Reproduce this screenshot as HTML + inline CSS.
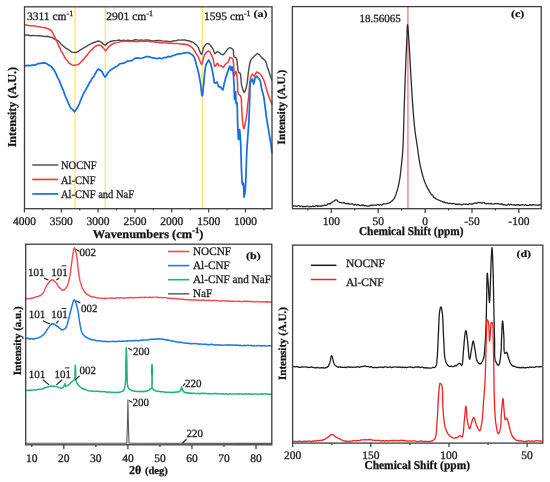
<!DOCTYPE html>
<html><head><meta charset="utf-8"><title>Figure</title>
<style>
html,body{margin:0;padding:0;background:#fff;}
body{width:550px;height:482px;overflow:hidden;}
svg{display:block;text-rendering:geometricPrecision;}
.t{font-family:"Liberation Serif",serif;font-size:11.5px;fill:#1c1c1c;stroke:#1c1c1c;stroke-width:0.3px;}
.ts{font-family:"Liberation Serif",serif;font-size:11px;fill:#1c1c1c;stroke:#1c1c1c;stroke-width:0.3px;}
.tb{font-family:"Liberation Serif",serif;font-size:12px;font-weight:bold;fill:#111;stroke:#111;stroke-width:0.25px;}
</style></head><body>
<svg width="550" height="482" viewBox="0 0 550 482">
<rect width="550" height="482" fill="#fff"/>
<line x1="75.05" y1="6.8" x2="75.05" y2="208.7" stroke="#f9e35f" stroke-width="1.25"/>
<line x1="105.3" y1="6.8" x2="105.3" y2="208.7" stroke="#f9e35f" stroke-width="1.25"/>
<line x1="202.3" y1="6.8" x2="202.3" y2="208.7" stroke="#f9e35f" stroke-width="1.25"/>
<g fill="none" stroke-linejoin="round" stroke-linecap="round">
<path d="M24.6 35L26.67 35.07L28.72 35.28L30.79 35.72L32.87 35.43L35 35.61L37.01 35.81L39.13 35.58L41.28 36.02L43.36 36.3L45.29 36.63L47 36.23L49.67 36.95L52 37.43L54.2 38.91L56.3 39.87L58.44 40.82L60.5 43.43L62.56 45.43L64.6 47.14L66.55 48.68L68.5 49.69L70.17 50.79L71.9 52.23L73.88 52.39L76 52.52L77.97 51.71L80.03 50.08L82.2 48.97L84.18 47.67L86.24 46.66L88.36 45.05L90.5 44.03L92.65 42.96L94.91 42.24L97.03 41.42L98.8 41L101.5 42.45L103.32 44.13L105.1 45.21L108 42.69L111.3 41.23L114.02 40.68L117 40.41L119.13 40.06L121.32 40.6L123.7 40.21L125.8 40.58L128.09 40.15L130.46 40.66L132.8 40.54L135 39.75L137.2 39.85L139.32 40.36L141.36 39.87L143.3 40.33L146.19 40.07L149.1 40.12L151.22 40.77L153.52 41.04L155.79 40.68L157.8 40.53L160.03 40.5L162.2 40.92L164.48 41.14L166.95 41.22L169.5 41.67L171.62 41.31L173.8 40.74L176 40.83L178.2 39.91L180.41 40.14L182.67 40.05L184.86 39.95L186.9 40.71L189.04 40.67L191.03 41.8L192.7 42.05L195 43.93L196.67 45.33L198.3 47.39L199.5 50.62L200.61 53.35L201.6 54.22L202.2 53.41L202.67 51.17L203.2 48.6L204 46.95L205.99 44.19L208.2 43.4L210.37 45.31L212.3 47.73L213.24 49.74L213.99 51.67L214.9 53.74L217.5 51.54L219.32 52.43L221.1 54.15L223.2 54.75L224.72 53.28L226.3 50.92L228.15 48.65L229.9 47.67L231.5 48.47L233 49.29L233.46 51.4L233.58 54.63L234.1 56.88L236.2 57.96L236.83 59.7L237.18 62.21L237.41 64.94L237.7 67.3L238.14 70.35L238.8 72.91L240 72.99L240.45 74.22L240.75 76.23L240.97 78.73L241.17 81.4L241.42 83.92L241.8 86L242.57 88.72L243.44 91.22L244.3 92.53L245.18 90.92L246.04 88.02L246.8 84.8L247.16 82.92L247.46 80.82L247.72 78.58L247.95 76.29L248.18 74.02L248.42 71.87L248.7 69.9L249.08 67.44L249.45 65.09L249.9 62.95L250.5 60.81L251.61 58.78L253 57.77L255.1 55.34L257.4 53.47L259.6 54.86L261.7 57.62L264.8 60.3L265.71 61.36L266.46 63.81L267.15 66.21L267.9 68.6L268.64 70.75L269.4 72.98L270.17 75.25L270.94 77.54L271.7 79.8" stroke="#4a4a4a" stroke-width="1.4"/>
<path d="M24.6 24.8L26.67 25.05L28.73 25.44L30.79 25.72L32.87 25.64L35 25.86L37.03 26.41L39.19 26.63L41.37 27.31L43.47 27.57L45.38 27.91L47 28.34L49.19 29.27L51 30.25L52.15 31.93L53.26 33.66L54.33 36.34L55.34 37.95L56.3 40.52L57.29 42.11L58.2 44.62L59.08 46.41L60 48.43L61.14 51.07L62.31 52.73L63.6 54.99L64.82 57.51L66.15 59.21L67.5 60.75L68.8 62.84L71.9 64.91L75.6 65.33L79 63.95L80.73 62.2L82.5 60.37L83.95 58.93L85.52 56.73L87.14 55.16L88.7 52.89L90.47 50.9L92.21 49.38L94 47.43L96.42 45.69L98.8 44.97L100.73 45.59L102.5 46.92L104.07 48.89L105.5 50.86L106.88 49.57L108.3 47.33L111.3 44.61L113.02 43.61L114.97 42.96L117 42.63L119.12 42.14L121.31 41.38L123.7 41.21L125.77 41.22L128.01 41.34L130.34 41.62L132.7 41.47L135 41.17L137.24 41.68L139.48 41.33L141.71 41.32L143.95 41.07L146.2 41.25L148.5 41.36L150.79 41.84L153.1 41.63L155.43 42.2L157.8 42.17L159.92 42.71L162.06 42.42L164.22 42.75L166.41 42.96L168.63 43.33L170.9 43.09L172.91 43.49L175.09 43.42L177.36 43.56L179.62 43.79L181.79 44.25L183.78 44.05L185.52 44.57L186.9 44.27L189.8 46L192 47.4L194.2 50.18L195.52 52.55L196.96 54.95L198.3 56.65L199.49 59.91L200.58 62.71L201.6 64.39L202.31 63.03L202.91 60.36L203.58 57.29L204.5 54.79L206.54 52.21L208.7 50.96L210.22 52.28L211.62 55.32L212.8 58L213.43 60.31L213.86 62.96L214.29 65.17L214.9 66.54L216.2 65.03L217.5 63.1L219 65.87L221.1 65.58L223.2 67.5L225.3 64.33L228.4 61.7L229.14 59.27L229.9 57.31L232.5 58.52L233.28 60.91L233.6 64.2L233.77 66.58L233.85 69.55L233.92 72.46L234.04 74.69L234.3 75.58L235.02 73.46L235.8 71.39L236.23 72.22L236.62 74.44L236.97 77.27L237.3 80L237.48 82.01L237.57 84.32L237.64 86.77L237.73 89.18L237.88 91.37L238.16 93.17L238.6 94.23L240.5 95.91L240.98 96.94L241.26 98.89L241.41 101.23L241.49 103.78L241.57 106.33L241.7 108.7L241.87 111.03L242.02 113.44L242.16 115.87L242.31 118.22L242.48 120.43L242.7 122.4L243.06 125.11L243.46 127.54L243.9 128.88L244.39 127.48L244.91 124.98L245.4 122.4L245.87 120.03L246.3 117.57L246.7 114.9L246.93 112.96L247.14 110.81L247.33 108.57L247.52 106.36L247.7 104.3L247.9 102.5L248.32 99.76L248.7 97.2L248.88 94.94L249.02 92.56L249.2 90L249.38 87.8L249.57 85.36L249.8 82.88L250.1 80.56L250.5 78.6L251.35 75.52L252.4 74.05L254.3 76.36L255.43 73.81L256.7 72.01L259.9 73.61L261.24 75.42L262.48 77.58L263.6 79.6L264.32 81.67L264.95 83.71L265.53 85.84L266.1 87.97L266.7 90L267.43 92.28L268.16 94.54L268.88 96.7L269.6 98.7L270.71 101.29L271.8 104" stroke="#f03c3c" stroke-width="1.5"/>
<path d="M24.6 66L27.19 65.3L29.78 65.53L32.38 65.18L35 65.09L37.81 63.74L40.71 63.33L43.48 62.93L45.9 63.22L48.71 65.1L51.1 66.18L52.51 68.32L53.83 69.74L55.08 71.93L56.3 74.3L57.41 77.07L58.46 79.12L59.48 80.75L60.48 83.94L61.5 86.09L62.37 88.47L63.22 90.07L64.08 92.66L64.94 95.27L65.81 97.24L66.7 99.23L67.73 101.54L68.78 103.79L69.85 106.33L70.89 108.09L71.9 108.86L74.4 111.79L76.26 109.39L78.1 106.46L79.14 104.11L80.12 101.62L81.11 99.09L82.2 96.7L83.15 94.53L84.16 92.14L85.21 90.97L86.29 88.78L87.39 86.96L88.5 84.57L89.72 82.37L91 80.69L92.28 77.96L93.53 76.94L94.7 74.92L96.12 72.12L97.46 69.88L98.8 69.23L102 71.55L103.56 74.88L105.1 77.15L106.31 75.83L107.61 73.17L109.2 71.49L111.13 69.63L113.43 68.19L115.69 66.81L117.5 65.91L120 63.6L122.08 63.42L124.61 62.87L127.3 61.15L129.7 60.81L132.23 60.33L134.85 58.37L137.5 57.9L139.77 58.38L142.11 58.01L144.47 57.39L146.81 56.49L149.1 56.78L151.72 57.67L154.29 58.22L156.82 58.61L159.3 57.98L161.55 58.74L163.75 57.7L165.9 57.71L168 56.39L170.52 56.85L172.95 55.53L175.3 55.01L178.26 53.7L181.1 53.76L183.67 53.01L186.2 52.63L188.88 52.74L191.3 54.32L192.92 55.28L194.2 57.21L195.08 59.73L195.75 62.32L196.4 64.9L197.06 67.22L197.69 69.52L198.3 72L198.74 73.99L199.18 76.09L199.6 78.28L200.01 80.52L200.4 82.8L200.74 85.27L201.05 88.18L201.36 91.14L201.65 93.74L201.93 95.6L202.2 95.83L202.54 95.21L202.87 92.53L203.19 89.13L203.5 85.9L203.71 83.8L203.91 81.53L204.1 79.17L204.3 76.8L204.5 74.49L204.74 72.33L205 70.4L205.43 67.61L205.91 65.13L206.6 63.36L208.7 59.96L210.7 63.72L211.3 65.99L211.85 68.3L212.36 70.81L212.85 73.31L213.3 75.6L213.78 79.02L214.21 82.28L214.9 83.3L217 82L217.71 83.93L218.5 86.58L220.6 87.06L222.7 89.95L223.25 88.89L223.7 85.9L224.32 83.26L225.04 80.36L225.8 77.6L226.83 74.4L227.9 71.4L228.95 68.11L229.9 66.12L231 70.18L232 66.73L233 71.4L233.25 73.3L233.46 75.59L233.65 78.12L233.81 80.77L233.96 83.41L234.1 85.9L234.2 88.49L234.27 91.43L234.32 94.36L234.38 96.91L234.47 98.71L234.6 99.4L234.91 97.54L235.28 94.06L235.6 91.5L235.75 93.86L235.81 97.52L235.91 101.22L236.2 103.7L236.7 101.97L236.92 103.03L237.1 104.31L237.22 106.22L237.32 108.6L237.39 111.31L237.44 114.21L237.49 117.17L237.54 120.03L237.61 122.65L237.7 124.9L237.84 127.9L237.99 131.19L238.13 134.4L238.28 137.15L238.44 139.07L238.6 139.52L238.81 138.26L239.03 134.85L239.26 131.45L239.5 129.58L239.75 130.85L240.01 133.25L240.27 136.46L240.5 139.8L240.61 141.57L240.7 143.58L240.78 145.78L240.86 148.14L240.93 150.61L241 153.17L241.07 155.78L241.13 158.39L241.2 160.98L241.27 163.5L241.34 165.92L241.42 168.2L241.5 170.31L241.6 172.2L241.75 175.46L241.89 178.77L242.05 181.71L242.27 183.83L242.6 184.84L243.3 183.11L243.56 184.76L243.71 187.25L243.8 190.46L243.86 193.66L243.95 196.11L244.1 197.06L244.47 195.79L244.9 192.63L245.3 188.8L245.43 187.18L245.55 185.32L245.67 183.25L245.77 181.01L245.87 178.62L245.96 176.12L246.04 173.53L246.13 170.89L246.21 168.22L246.29 165.57L246.36 162.95L246.44 160.4L246.53 157.95L246.61 155.63L246.7 153.47L246.8 151.5L246.95 148.78L247.11 146.26L247.27 143.89L247.43 141.62L247.58 139.42L247.74 137.22L247.9 135L248.07 132.66L248.24 130.43L248.42 128.23L248.59 125.99L248.75 123.64L248.9 121.1L249 119.08L249.09 116.91L249.18 114.64L249.26 112.27L249.34 109.86L249.42 107.44L249.49 105.03L249.57 102.67L249.64 100.39L249.72 98.22L249.8 96.2L249.87 93.54L249.9 90.93L249.92 88.42L250 86.1L250.18 84.04L250.5 82.11L252.4 79.07L253.07 81.73L253.6 84.11L254.15 82.28L254.9 78.37L256.7 76.1L258.34 78.08L259.9 80.02L260.62 82.39L261.03 85.17L261.5 88L262.06 90.27L262.67 92.58L263.28 94.93L263.8 97.3L264.22 99.77L264.56 102.27L264.87 104.81L265.2 107.4L265.5 109.69L265.79 112.06L266.08 114.44L266.39 116.77L266.7 119L267.06 121.29L267.44 123.48L267.83 125.63L268.2 127.8L268.55 129.98L268.9 132.15L269.25 134.33L269.6 136.5L269.98 138.69L270.38 140.9L270.77 143.08L271.1 145.2L271.41 147.65L271.65 150.02L271.9 152.4" stroke="#1570e0" stroke-width="1.75"/>
</g>
<rect x="24.5" y="6.8" width="247.5" height="201.89999999999998" fill="none" stroke="#3d3d3d" stroke-width="1.3"/>
<line x1="263.93" y1="208.7" x2="263.93" y2="210.2" stroke="#3d3d3d" stroke-width="1.2"/>
<line x1="245.5" y1="208.7" x2="245.5" y2="212.5" stroke="#3d3d3d" stroke-width="1.2"/>
<line x1="227.08" y1="208.7" x2="227.08" y2="210.2" stroke="#3d3d3d" stroke-width="1.2"/>
<line x1="208.65" y1="208.7" x2="208.65" y2="212.5" stroke="#3d3d3d" stroke-width="1.2"/>
<line x1="190.23" y1="208.7" x2="190.23" y2="210.2" stroke="#3d3d3d" stroke-width="1.2"/>
<line x1="171.8" y1="208.7" x2="171.8" y2="212.5" stroke="#3d3d3d" stroke-width="1.2"/>
<line x1="153.38" y1="208.7" x2="153.38" y2="210.2" stroke="#3d3d3d" stroke-width="1.2"/>
<line x1="134.95" y1="208.7" x2="134.95" y2="212.5" stroke="#3d3d3d" stroke-width="1.2"/>
<line x1="116.53" y1="208.7" x2="116.53" y2="210.2" stroke="#3d3d3d" stroke-width="1.2"/>
<line x1="98.1" y1="208.7" x2="98.1" y2="212.5" stroke="#3d3d3d" stroke-width="1.2"/>
<line x1="79.68" y1="208.7" x2="79.68" y2="210.2" stroke="#3d3d3d" stroke-width="1.2"/>
<line x1="61.25" y1="208.7" x2="61.25" y2="212.5" stroke="#3d3d3d" stroke-width="1.2"/>
<line x1="42.83" y1="208.7" x2="42.83" y2="210.2" stroke="#3d3d3d" stroke-width="1.2"/>
<line x1="24.4" y1="208.7" x2="24.4" y2="212.5" stroke="#3d3d3d" stroke-width="1.2"/>
<text x="245.5" y="224.6" class="t" text-anchor="middle">1000</text>
<text x="208.65" y="224.6" class="t" text-anchor="middle">1500</text>
<text x="171.8" y="224.6" class="t" text-anchor="middle">2000</text>
<text x="134.95" y="224.6" class="t" text-anchor="middle">2500</text>
<text x="98.1" y="224.6" class="t" text-anchor="middle">3000</text>
<text x="61.25" y="224.6" class="t" text-anchor="middle">3500</text>
<text x="24.4" y="224.6" class="t" text-anchor="middle">4000</text>
<text x="27" y="20.4" class="t">3311 cm<tspan dy="-4.5" font-size="8">-1</tspan></text>
<text x="106.3" y="20.4" class="t">2901 cm<tspan dy="-4.5" font-size="8">-1</tspan></text>
<text x="204" y="20.4" class="t">1595 cm<tspan dy="-4.5" font-size="8">-1</tspan></text>
<text transform="translate(253.6 17.3) scale(1 0.82)" class="tb">(a)</text>
<line x1="32.2" y1="165" x2="58.2" y2="165" stroke="#6a6a6a" stroke-width="1.7"/>
<text transform="translate(61 169.1) scale(0.915 1)" class="t">NOCNF</text>
<line x1="32.2" y1="179.45" x2="58.2" y2="179.45" stroke="#f03c3c" stroke-width="1.7"/>
<text transform="translate(61 183.55) scale(0.915 1)" class="t">Al-CNF</text>
<line x1="32.2" y1="193.9" x2="58.2" y2="193.9" stroke="#1570e0" stroke-width="1.7"/>
<text transform="translate(61 198) scale(0.915 1)" class="t">Al-CNF and NaF</text>
<text transform="translate(148.1 237.8) scale(1.03 1)" class="tb" text-anchor="middle">Wavenumbers (cm<tspan dy="-4.5" font-size="8.5">-1</tspan><tspan dy="4.5">)</tspan></text>
<text transform="translate(16.4 107.2) rotate(-90)" class="tb" style="font-size:12.1px" text-anchor="middle">Intensity (A.U.)</text>
<g fill="none" stroke-linejoin="round" stroke-linecap="round">
<path d="M25.8 298.9L26.77 298.55L27.75 298.74L28.74 298.58L29.72 298.37L30.7 298.08L31.68 298.28L32.63 298.12L33.58 297.74L34.5 297.5L35.48 297.07L36.46 296.67L37.44 296.6L38.4 296.42L39.33 295.75L40.21 295.77L41.04 294.93L41.8 294.34L42.39 293.61L42.92 293.47L43.4 292.52L43.85 291.76L44.26 290.72L44.66 289.47L45.04 288.76L45.42 288.01L45.8 286.99L46.2 286.77L46.79 285.44L47.36 284.38L47.91 283.91L48.49 282.69L49.1 282.46L49.78 281.44L50.5 280.8L51.23 280.14L52 279.99L52.88 279.99L53.8 280.42L54.72 281.63L55.6 282.04L56.16 282.97L56.7 283.34L57.21 284.58L57.72 285.34L58.23 286.05L58.75 286.8L59.3 287.35L59.99 288.2L60.71 288.61L61.44 289.51L62.17 290.21L62.9 290.02L63.64 290.29L64.4 289.83L65.15 288.89L65.86 288.08L66.5 287.27L66.88 286.61L67.23 286.28L67.55 285.22L67.84 284.4L68.11 283.53L68.37 282.62L68.61 281.68L68.84 280.72L69.06 279.75L69.28 278.77L69.5 277.8L69.68 276.98L69.85 276.13L70 275.25L70.15 274.34L70.29 273.42L70.43 272.49L70.55 271.55L70.68 270.6L70.8 269.64L70.91 268.69L71.03 267.75L71.14 266.82L71.25 265.91L71.37 265.01L71.48 264.14L71.6 263.3L71.74 262.29L71.88 261.29L72.01 260.29L72.14 259.31L72.27 258.34L72.4 257.39L72.53 256.47L72.66 255.57L72.8 254.71L72.94 253.89L73.1 253.1L73.36 251.8L73.63 250.44L73.9 249.22L74.2 248.27L74.5 247.72L74.73 247.93L74.97 248.66L75.23 249.4L75.49 250.34L75.76 251.42L76.01 252.58L76.26 253.77L76.49 254.93L76.7 256L76.85 256.83L76.98 257.7L77.1 258.59L77.21 259.5L77.31 260.43L77.41 261.38L77.5 262.34L77.58 263.31L77.67 264.29L77.76 265.26L77.86 266.24L77.96 267.2L78.07 268.16L78.2 269.1L78.33 270.04L78.46 271L78.58 271.96L78.71 272.93L78.84 273.91L78.98 274.88L79.12 275.84L79.26 276.8L79.42 277.75L79.59 278.68L79.77 279.59L79.96 280.49L80.17 281.36L80.4 282.2L80.68 283.17L80.97 284.13L81.27 285.07L81.58 285.99L81.92 286.88L82.27 287.88L82.65 288.89L83.07 289.4L83.51 290.16L84 290.93L84.59 291.83L85.22 292.27L85.88 293.21L86.58 293.84L87.32 294.51L88.1 294.82L88.93 295.33L89.8 295.91L90.57 296.6L91.38 296.55L92.22 296.95L93.09 296.99L93.99 297.05L94.92 297.18L95.88 297.76L96.87 297.86L97.89 297.72L98.93 298.01L100 298.11L100.79 298.31L101.62 298.4L102.47 298.11L103.35 298.5L104.25 298.51L105.17 298.3L106.11 298.48L107.06 298.25L108.03 298.17L109 298.08L109.98 298.44L110.96 298L111.95 297.92L112.93 298.34L113.91 298.29L114.87 298.09L115.83 298.28L116.78 297.78L117.7 297.89L118.61 297.89L119.5 297.95L120.46 297.79L121.4 297.71L122.34 297.85L123.27 298.17L124.19 298.2L125.1 298.03L126.01 297.84L126.91 297.68L127.81 298.08L128.7 297.79L129.6 297.89L130.49 297.44L131.39 297.52L132.28 297.87L133.19 297.82L134.09 297.85L135 297.66L135.92 297.53L136.84 297.6L137.76 297.74L138.68 297.39L139.6 297.5L140.53 297.32L141.45 297.59L142.37 297.11L143.3 297.49L144.22 297.63L145.14 297.05L146.06 297.38L146.97 297.4L147.88 297.51L148.79 297.35L149.7 297.15L150.6 297.24L151.51 297.58L152.41 297.56L153.3 297.11L154.19 297.11L155.06 297.13L155.94 297.11L156.81 297.39L157.69 297.23L158.57 297.7L159.45 297.61L160.35 297.33L161.25 297.62L162.16 297.54L163.09 297.69L164.04 297.58L165 297.6L165.84 297.66L166.67 297.84L167.52 298.1L168.36 298.07L169.21 297.84L170.07 298.32L170.93 298.5L171.8 298.52L172.67 298.61L173.56 298.23L174.45 298.59L175.35 298.44L176.26 298.95L177.18 298.68L178.11 299.09L179.05 298.9L180.01 299.25L180.98 299.1L181.96 299.02L182.96 299.3L183.97 299.32L185 299.74L185.8 299.42L186.6 299.6L187.42 299.67L188.24 299.95L189.07 299.49L189.91 299.83L190.76 299.81L191.61 299.99L192.47 300.17L193.34 299.81L194.22 300.08L195.1 300.02L195.99 300.07L196.89 299.81L197.79 300.29L198.7 300.42L199.62 300.08L200.54 300.09L201.47 300.53L202.4 300.03L203.34 300.04L204.29 300.07L205.24 300.55L206.19 300.54L207.15 300.39L208.12 300.52L209.08 300.19L210.06 300.59L211.04 300.5L212.02 300.57L213 300.53L213.99 300.56L214.99 300.49L215.98 300.41L216.98 300.67L217.99 300.59L218.99 300.89L220 300.99L220.82 300.96L221.64 300.82L222.48 300.71L223.31 300.83L224.16 300.91L225 301.02L225.86 301.24L226.71 300.74L227.58 301L228.44 301.03L229.31 301.19L230.19 301.31L231.07 301.27L231.96 301.2L232.84 301.3L233.74 301.27L234.63 301.4L235.53 301.33L236.43 301.34L237.34 301.1L238.24 301.52L239.16 301.22L240.07 301.38L240.98 301.53L241.9 301.63L242.82 301.67L243.74 301.1L244.67 301.3L245.59 301.32L246.52 301.39L247.45 301.26L248.38 301.53L249.31 301.26L250.24 301.42L251.17 301.82L252.1 301.72L253.03 301.57L253.97 301.38L254.9 301.91L255.83 301.78L256.76 301.5L257.69 301.6L258.63 301.8L259.56 301.84L260.48 301.61L261.41 302.05L262.34 301.69L263.26 301.67L264.19 302.04L265.11 301.65L266.03 301.98L266.95 301.72L267.86 301.98L268.78 301.8L269.69 301.89L270.59 302.24L271.5 302" stroke="#f5474f" stroke-width="1.4"/>
<path d="M25.8 338.1L26.76 338.55L27.71 338.26L28.66 338.4L29.62 339.15L30.6 338.78L31.6 338.77L32.49 339.05L33.41 338.77L34.35 338.97L35.31 338.4L36.25 338.62L37.18 337.99L38.07 337.87L38.9 337.76L39.85 337.19L40.75 336.88L41.61 336.23L42.44 335.27L43.23 335.13L44 334.25L44.62 333.39L45.19 332.53L45.73 332.06L46.26 331.01L46.77 330.32L47.29 329.34L47.83 328.62L48.4 327.64L49.08 326.88L49.78 325.96L50.49 324.92L51.22 324.63L51.95 323.73L52.7 323.77L53.55 323.99L54.42 324.26L55.31 324.61L56.2 325.74L57.1 326.3L57.94 326.65L58.81 327.33L59.68 328.4L60.55 328.8L61.39 329.84L62.2 329.8L63.17 329.66L64.12 329.12L65.01 328.57L65.8 327.85L66.21 326.88L66.57 326.22L66.89 325.51L67.18 324.65L67.45 323.74L67.7 322.79L67.95 321.81L68.19 320.83L68.44 319.85L68.7 318.9L68.94 318.06L69.17 317.19L69.39 316.29L69.61 315.37L69.83 314.45L70.04 313.51L70.26 312.58L70.47 311.65L70.69 310.73L70.91 309.83L71.13 308.96L71.36 308.11L71.6 307.3L71.92 306.18L72.25 304.95L72.58 303.7L72.92 302.5L73.26 301.44L73.6 300.63L73.95 299.89L74.3 299.86L74.61 299.99L74.94 300.37L75.28 301.2L75.62 301.98L75.96 303.01L76.3 304.14L76.63 305.32L76.94 306.51L77.23 307.65L77.5 308.7L77.7 309.55L77.89 310.43L78.05 311.34L78.21 312.27L78.35 313.21L78.48 314.16L78.6 315.13L78.73 316.1L78.85 317.07L78.98 318.04L79.12 319L79.27 319.95L79.42 320.88L79.6 321.8L79.78 322.74L79.95 323.7L80.11 324.68L80.27 325.66L80.43 326.63L80.6 327.6L80.78 328.55L80.98 329.48L81.21 330.37L81.47 331.23L81.77 332.06L82.11 332.55L82.5 333.8L83.06 334.24L83.68 335.04L84.34 335.72L85.06 336.67L85.82 337.26L86.63 337.54L87.49 337.97L88.4 338.26L89.12 339.07L89.87 338.93L90.65 339.42L91.45 339.54L92.28 339.74L93.14 339.95L94.03 340.02L94.95 340.09L95.89 340.53L96.87 340.82L97.88 340.85L98.93 340.7L100 341.12L100.74 340.81L101.51 341.09L102.31 341.4L103.14 341.5L103.99 341.27L104.87 341.54L105.77 341.37L106.69 341.41L107.63 341.46L108.58 341.72L109.55 341.58L110.52 341.43L111.51 341.58L112.5 341.53L113.5 341.35L114.51 341.6L115.51 341.6L116.51 341.46L117.51 341.64L118.5 341.07L119.49 341.33L120.47 341.39L121.43 341.19L122.38 341.06L123.32 341.35L124.24 341.17L125.14 341.04L126.02 340.88L126.87 341.41L127.7 341.01L128.71 340.84L129.7 340.86L130.67 340.84L131.63 341.15L132.57 340.69L133.5 340.69L134.41 340.52L135.32 340.68L136.22 340.46L137.11 340.48L137.99 340.65L138.87 340.69L139.75 340.57L140.62 340.03L141.49 340.17L142.36 340.39L143.24 339.83L144.12 339.88L145 339.99L145.93 339.87L146.87 340.02L147.79 339.92L148.72 339.69L149.64 339.47L150.56 339.37L151.47 339.31L152.39 339.11L153.3 339.39L154.2 339.02L155.11 339.39L156.01 339.2L156.91 338.81L157.81 339.05L158.71 339.11L159.61 338.79L160.5 339.09L161.43 338.88L162.36 339.41L163.29 339.06L164.23 339.57L165.16 339.92L166.1 340L167.03 339.8L167.95 340.16L168.87 340.1L169.78 340.41L170.69 340.91L171.58 341.06L172.45 340.75L173.32 341.14L174.17 341.45L175 341.31L175.96 341.84L176.87 342.04L177.74 341.98L178.58 342.01L179.41 342.44L180.25 342.38L181.1 342.32L181.99 342.5L182.93 342.55L183.93 343.08L185 343.01L185.73 343.19L186.49 343.34L187.27 343.5L188.07 343.1L188.9 343.29L189.75 343.64L190.62 343.64L191.51 343.47L192.41 343.7L193.33 343.48L194.26 343.52L195.21 343.5L196.17 343.76L197.13 343.72L198.11 343.95L199.09 344.27L200.08 343.83L201.08 344.12L202.07 344.35L203.07 344.24L204.07 344.25L205.07 344.44L206.07 344.04L207.06 344.64L208.05 344.52L209.03 344.64L210 344.7L210.87 344.3L211.74 344.32L212.62 344.42L213.5 344.65L214.39 344.95L215.28 344.96L216.17 344.7L217.06 344.85L217.96 344.96L218.86 344.74L219.77 345.15L220.68 345.17L221.58 345.07L222.5 345.2L223.41 345.16L224.32 345.1L225.24 344.93L226.16 344.93L227.08 344.93L228 344.85L228.92 345.39L229.84 345.04L230.77 344.9L231.69 345.09L232.61 344.99L233.54 345.22L234.46 345.17L235.39 345.1L236.31 345.3L237.23 345.29L238.16 345.27L239.08 345.57L240 345.28L240.89 345.44L241.78 345.67L242.67 345.73L243.57 345.4L244.46 345.22L245.35 345.78L246.25 345.54L247.15 345.37L248.05 345.34L248.94 345.42L249.84 345.47L250.74 345.39L251.64 345.35L252.54 345.93L253.45 345.84L254.35 345.43L255.25 345.66L256.15 345.86L257.06 345.7L257.96 345.45L258.86 345.62L259.77 345.66L260.67 345.99L261.57 345.81L262.48 345.74L263.38 345.86L264.28 345.52L265.19 345.92L266.09 346L266.99 345.93L267.9 345.76L268.8 345.73L269.7 345.58L270.6 345.64L271.5 345.9" stroke="#1f79de" stroke-width="1.5"/>
<path d="M25.8 390.4L26.77 390.61L27.75 390.59L28.73 390.53L29.71 390.01L30.69 390.28L31.66 390.14L32.62 390.16L33.57 389.85L34.5 389.82L35.45 389.88L36.38 389.66L37.29 389.71L38.2 389.35L39.11 389.26L40 389.5L40.9 389.15L41.8 389.01L42.73 388.87L43.68 388.32L44.62 387.77L45.57 387.81L46.49 387.31L47.4 387.01L48.27 386.69L49.1 386.68L50.27 386.11L51.37 386.24L52.43 385.97L53.5 386.14L54.58 386.36L55.65 386.41L56.72 386.57L57.8 387.08L58.71 387.49L59.66 387.73L60.6 387.93L61.46 388.22L62.2 387.91L63.24 387.29L64 386.39L64.37 385.37L64.59 384.1L64.8 383.69L64.99 384.21L65.17 385.58L65.5 386.32L66.5 386.17L67.08 385.83L67.78 385.26L68.56 384.73L69.37 384.17L70.17 383.57L70.9 382.6L71.7 381.94L72.52 381.25L73.29 380.59L73.97 380.13L74.5 379.13L74.79 378.25L74.95 377.29L75.01 376.26L75.01 375.19L74.99 374.1L74.97 373.03L75 372L75.05 370.92L75.1 369.68L75.14 368.41L75.17 367.22L75.21 366.23L75.25 365.55L75.3 365.16L75.35 365.55L75.41 366.21L75.47 367.19L75.53 368.37L75.59 369.64L75.65 370.88L75.7 372L75.72 372.92L75.72 373.88L75.7 374.87L75.68 375.88L75.67 376.88L75.69 377.86L75.74 378.8L75.84 379.69L76 380.5L76.3 381.51L76.67 382.2L77.11 383.47L77.62 384.24L78.2 385.1L78.78 385.43L79.42 386.27L80.11 387.12L80.86 387.51L81.66 388.27L82.5 388.3L83.29 389.17L84.12 388.97L85 389.49L85.91 389.54L86.85 390.26L87.82 390.41L88.8 390.79L89.8 390.88L90.64 391.12L91.49 390.99L92.34 391.37L93.2 391.31L94.08 391.15L94.98 391.58L95.91 391.28L96.87 391.21L97.87 391.18L98.91 391.45L100 391.32L100.76 391.79L101.59 391.84L102.47 391.46L103.4 391.45L104.37 391.78L105.38 391.63L106.42 391.93L107.48 392.17L108.56 391.91L109.64 392.08L110.74 392.43L111.82 392.21L112.9 392.19L113.97 392.55L115.01 392.51L116.02 392.56L117 392.41L117.94 392.2L118.83 392.29L119.66 392.27L120.44 392.03L121.15 391.63L121.78 391.47L122.33 391.31L122.8 391.26L123.54 390.5L124.03 389.78L124.36 388.94L124.58 388.02L124.77 386.98L125 385.8L125.12 385.2L125.22 384.54L125.32 383.83L125.4 383.07L125.47 382.26L125.54 381.41L125.59 380.52L125.64 379.6L125.68 378.64L125.71 377.66L125.74 376.66L125.76 375.64L125.78 374.6L125.79 373.55L125.8 372.5L125.81 371.44L125.81 370.39L125.82 369.34L125.82 368.29L125.82 367.27L125.82 366.26L125.82 365.27L125.83 364.3L125.84 363.37L125.85 362.47L125.86 361.6L125.88 360.78L125.9 360L125.94 358.83L125.97 357.6L126 356.32L126.03 355.04L126.06 353.78L126.09 352.55L126.12 351.41L126.15 350.36L126.18 349.44L126.2 348.68L126.23 348.1L126.27 347.73L126.3 347.8L126.34 347.73L126.37 348.1L126.41 348.68L126.44 349.45L126.48 350.37L126.52 351.42L126.56 352.57L126.6 353.79L126.64 355.05L126.68 356.34L126.72 357.61L126.76 358.84L126.8 360L126.83 360.79L126.85 361.64L126.87 362.53L126.89 363.46L126.9 364.42L126.92 365.42L126.93 366.45L126.94 367.5L126.96 368.56L126.97 369.64L126.98 370.72L127 371.81L127.01 372.89L127.03 373.96L127.05 375.02L127.07 376.07L127.1 377.09L127.12 378.09L127.16 379.05L127.19 379.97L127.23 380.86L127.28 381.69L127.33 382.48L127.39 383.21L127.45 383.87L127.52 384.47L127.6 385L127.8 386.38L128.05 387.16L128.6 388.38L129.12 388.73L129.76 389.37L130.51 390L131.36 390.07L132.28 390.85L133.26 390.63L134.3 391.14L135.01 391.23L135.81 391.15L136.68 391.44L137.61 391.47L138.6 391.52L139.63 391.72L140.68 391.3L141.75 391.52L142.82 391.72L143.89 391.25L144.93 391.57L145.94 391L146.9 391.08L147.8 390.52L148.64 390.37L149.39 389.98L150.05 389.35L150.6 389.22L151.02 388.55L151.37 388.03L151.65 387.19L151.87 386.39L152.04 385.52L152.15 384.59L152.22 383.61L152.25 382.59L152.25 381.54L152.22 380.47L152.17 379.39L152.1 378.3L152.02 377.22L151.93 376.16L151.84 375.13L151.76 374.13L151.68 373.18L151.63 372.28L151.59 371.44L151.58 370.68L151.6 370L151.67 368.76L151.74 367.51L151.8 366.36L151.86 365.4L151.93 364.74L152 364.52L152.08 364.74L152.16 365.39L152.25 366.35L152.34 367.51L152.42 368.76L152.5 370L152.52 370.68L152.52 371.45L152.49 372.29L152.44 373.19L152.38 374.15L152.31 375.16L152.24 376.2L152.16 377.27L152.08 378.35L152.02 379.44L151.97 380.53L151.93 381.61L151.91 382.66L151.92 383.68L151.97 384.66L152.04 385.58L152.16 386.45L152.32 387.24L152.52 387.96L152.78 388.61L153.1 389.12L153.74 389.67L154.48 390.55L155.31 390.44L156.22 391.19L157.2 391.37L158.25 391.3L159.35 391.61L160.5 391.7L161.25 391.77L162.08 391.69L162.99 391.81L163.96 391.92L164.99 391.98L166.06 392.46L167.16 392.16L168.28 392.24L169.41 392.31L170.55 392.57L171.67 392.38L172.78 392.42L173.85 392.21L174.88 392.16L175.87 391.97L176.79 391.94L177.64 391.83L178.4 392.02L179.08 391.61L179.64 391.14L180.1 391.08L180.81 389.83L181.13 388.69L181.28 387.51L181.5 387.04L181.81 387.59L182.1 388.84L182.5 389.97L182.91 390.99L183.42 391.34L184.3 392.31L184.69 392.12L185.13 392.71L185.63 392.64L186.18 392.41L186.78 392.98L187.43 392.77L188.12 392.91L188.86 392.86L189.64 393.34L190.46 392.96L191.31 393.4L192.2 393.24L193.12 393.44L194.06 393.24L195.04 393.14L196.03 393.66L197.05 393.52L198.09 393.24L199.15 393.74L200.22 393.71L201.3 393.27L202.4 393.18L203.5 393.54L204.61 393.26L205.71 393.63L206.82 393.48L207.93 393.64L209.04 393.57L210.13 393.71L211.22 393.76L212.3 393.66L213.05 393.68L213.8 393.54L214.57 393.45L215.35 393.44L216.14 393.92L216.93 393.55L217.73 393.7L218.55 393.65L219.37 393.84L220.2 393.81L221.04 394.02L221.88 393.78L222.74 393.74L223.6 393.93L224.46 394L225.34 394.12L226.22 393.76L227.11 394.11L228 394.18L228.9 394.19L229.8 393.69L230.71 393.84L231.63 394.09L232.55 394.13L233.47 393.66L234.4 393.88L235.33 394.08L236.27 394.11L237.21 393.98L238.16 393.79L239.1 393.91L240.05 393.71L241.01 393.87L241.96 393.94L242.92 394.18L243.88 394.04L244.84 393.94L245.8 393.84L246.77 393.88L247.73 394.1L248.7 393.97L249.67 393.81L250.63 394.2L251.6 394.05L252.57 394.29L253.53 394.04L254.5 394.09L255.46 393.98L256.43 394.09L257.39 394.28L258.35 394.32L259.31 394.13L260.27 393.99L261.22 393.78L262.17 394.25L263.12 393.98L264.07 393.98L265.01 393.79L265.95 393.78L266.89 394L267.82 394.36L268.75 394.22L269.67 394.21L270.59 394.19L271.5 394.1" stroke="#1fb57a" stroke-width="1.5"/>
<path d="M25.8 443.3L126.8 443.2L127.4 425L127.9 399.9L128.4 425L129 443.2L271.5 443.4" stroke="#5a5a5a" stroke-width="1.1"/>
</g>
<rect x="25.7" y="244.2" width="246.10000000000002" height="200.60000000000002" fill="none" stroke="#3d3d3d" stroke-width="1.3"/>
<line x1="31.8" y1="444.8" x2="31.8" y2="447.1" stroke="#3d3d3d" stroke-width="1.2"/>
<text x="31.8" y="461.5" class="t" text-anchor="middle">10</text>
<line x1="63.83" y1="444.8" x2="63.83" y2="449.3" stroke="#3d3d3d" stroke-width="1.2"/>
<text x="63.83" y="461.5" class="t" text-anchor="middle">20</text>
<line x1="95.86" y1="444.8" x2="95.86" y2="447.1" stroke="#3d3d3d" stroke-width="1.2"/>
<text x="95.86" y="461.5" class="t" text-anchor="middle">30</text>
<line x1="127.89" y1="444.8" x2="127.89" y2="449.3" stroke="#3d3d3d" stroke-width="1.2"/>
<text x="127.89" y="461.5" class="t" text-anchor="middle">40</text>
<line x1="159.92" y1="444.8" x2="159.92" y2="447.1" stroke="#3d3d3d" stroke-width="1.2"/>
<text x="159.92" y="461.5" class="t" text-anchor="middle">50</text>
<line x1="191.95" y1="444.8" x2="191.95" y2="449.3" stroke="#3d3d3d" stroke-width="1.2"/>
<text x="191.95" y="461.5" class="t" text-anchor="middle">60</text>
<line x1="223.98" y1="444.8" x2="223.98" y2="447.1" stroke="#3d3d3d" stroke-width="1.2"/>
<text x="223.98" y="461.5" class="t" text-anchor="middle">70</text>
<line x1="256.01" y1="444.8" x2="256.01" y2="449.3" stroke="#3d3d3d" stroke-width="1.2"/>
<text x="256.01" y="461.5" class="t" text-anchor="middle">80</text>
<text x="129" y="473.8" class="tb">2&#952; <tspan x="145" style="font-size:10.5px">(deg)</tspan></text>
<text transform="translate(20.9 340.8) rotate(-90)" class="tb" style="font-size:11px" text-anchor="middle">Intensity (a.u.)</text>
<g class="s" fill="none" stroke="#222" stroke-width="1.15">
<line x1="44" y1="278.1" x2="48.4" y2="280"/>
<line x1="59.3" y1="278.1" x2="56.4" y2="280"/>
<line x1="76" y1="249.5" x2="79.6" y2="251.6"/>
<line x1="43" y1="320.7" x2="49.8" y2="324"/>
<line x1="58.5" y1="320.7" x2="56.4" y2="323.3"/>
<line x1="76" y1="300.7" x2="80.4" y2="302.9"/>
<line x1="43" y1="379.8" x2="49.1" y2="384.9"/>
<line x1="62.2" y1="379.8" x2="56.4" y2="384.9"/>
<line x1="79.6" y1="375.9" x2="75.3" y2="379.8"/>
<line x1="128.3" y1="348.3" x2="132.3" y2="350.6"/>
<line x1="128.9" y1="400.6" x2="132.4" y2="402.6"/>
<line x1="182.8" y1="386.1" x2="185.3" y2="383.3"/>
<line x1="182.5" y1="443" x2="186.6" y2="439.3"/>
</g>
<text x="28" y="275.6" class="ts">101</text>
<text x="51.3" y="275.6" class="ts">101</text>
<line x1="61.6" y1="265.9" x2="66.4" y2="265.9" stroke="#2a2a2a" stroke-width="1"/>
<text x="79.6" y="256.3" class="ts">002</text>
<text x="28.7" y="318.2" class="ts">101</text>
<text x="51.3" y="318.2" class="ts">101</text>
<line x1="61.6" y1="308.5" x2="66.4" y2="308.5" stroke="#2a2a2a" stroke-width="1"/>
<text x="81.1" y="312.4" class="ts">002</text>
<text x="28.7" y="377.6" class="ts">101</text>
<text x="54.6" y="377.6" class="ts">101</text>
<line x1="64.9" y1="367.9" x2="69.7" y2="367.9" stroke="#2a2a2a" stroke-width="1"/>
<text x="79.6" y="374" class="ts">002</text>
<text x="133" y="355" class="ts">200</text>
<text x="132.6" y="406.4" class="ts">200</text>
<text x="185" y="386.8" class="ts">220</text>
<text x="186.6" y="437" class="ts">220</text>
<line x1="168" y1="251.5" x2="189.3" y2="251.5" stroke="#f5474f" stroke-width="1.6"/>
<text transform="translate(193 254.5) scale(0.975 1)" class="t">NOCNF</text>
<line x1="168" y1="265.6" x2="189.3" y2="265.6" stroke="#1f79de" stroke-width="1.6"/>
<text transform="translate(193 268.6) scale(0.975 1)" class="t">Al-CNF</text>
<line x1="168" y1="279.7" x2="189.3" y2="279.7" stroke="#1fb57a" stroke-width="1.6"/>
<text transform="translate(193 282.7) scale(0.975 1)" class="t">Al-CNF and NaF</text>
<line x1="168" y1="293.8" x2="189.3" y2="293.8" stroke="#666" stroke-width="1.6"/>
<text transform="translate(193 296.8) scale(0.975 1)" class="t">NaF</text>
<text transform="translate(246 258.9) scale(1 0.82)" class="tb">(b)</text>
<line x1="407.9" y1="6.6" x2="407.9" y2="208.7" stroke="#f88a8a" stroke-width="1.5"/>
<path d="M292.6 206L293.52 205.74L294.44 206.1L295.36 205.94L296.28 206.24L297.21 206.3L298.13 205.72L299.05 205.7L299.98 206.64L300.9 206.04L301.82 206.04L302.74 206.9L303.65 206.35L304.57 206.77L305.48 206.38L306.39 206.57L307.3 206.03L308.2 206.55L309.13 206.79L310.07 206.39L311.02 206.6L311.98 206.5L312.94 205.8L313.9 206.53L314.85 206.3L315.8 205.94L316.74 205.59L317.66 206.44L318.56 205.94L319.44 206.14L320.3 206.23L321.13 205.95L321.93 206.08L322.7 205.38L323.76 205.65L324.78 205.06L325.76 205.39L326.7 205.1L327.59 204L328.44 203.78L329.25 203.59L330 204.11L331 203.04L331.87 202.71L332.69 201.81L333.5 201.51L334.46 200.66L335.38 199.93L336.3 199.89L337.18 200.31L338.05 201.51L339.1 202L339.88 202.54L340.79 202.68L341.78 203L342.79 202.79L343.78 202.36L344.7 203.26L345.5 203.51L346.43 203.65L347.23 203.48L348.2 203.84L348.91 203.41L349.7 204.23L350.56 204.08L351.47 203.9L352.43 203.8L353.41 204.81L354.41 205.09L355.41 204.23L356.4 205.13L357.25 204.8L358.13 204.61L359.02 204.87L359.92 205.49L360.83 205.7L361.76 204.88L362.68 205.59L363.62 205.04L364.54 205.84L365.47 205.46L366.39 206.1L367.3 206.23L368.28 205.71L369.28 206.23L370.29 205.44L371.3 205.13L372.3 205.65L373.3 204.95L374.28 205.05L375.25 205.19L376.2 205.32L377.11 204.72L378 204.5L379.1 205.26L380.19 204.49L381.25 205.03L382.26 204.78L383.24 204.02L384.15 203.93L385 203.82L386.18 203.74L387.22 203.48L388.3 203.07L389.11 202.77L389.98 202.69L390.87 201.71L391.74 201.05L392.57 200.7L393.3 199.41L393.78 198.85L394.22 198.89L394.62 197.61L395 196.82L395.35 195.95L395.68 195.07L395.99 194.16L396.3 193.24L396.6 192.32L396.9 191.4L397.16 190.59L397.41 189.76L397.65 188.92L397.87 188.07L398.09 187.2L398.3 186.32L398.5 185.43L398.7 184.52L398.89 183.6L399.07 182.67L399.25 181.73L399.43 180.77L399.6 179.8L399.74 178.95L399.88 178.08L400.02 177.19L400.15 176.28L400.27 175.36L400.39 174.43L400.5 173.48L400.62 172.53L400.72 171.58L400.83 170.62L400.93 169.66L401.03 168.71L401.13 167.76L401.23 166.82L401.32 165.89L401.42 164.98L401.51 164.08L401.6 163.2L401.7 162.22L401.8 161.26L401.9 160.32L402 159.4L402.09 158.49L402.18 157.58L402.26 156.68L402.35 155.77L402.43 154.86L402.51 153.93L402.59 152.98L402.66 152.02L402.73 151.02L402.8 150L402.85 149.18L402.9 148.35L402.95 147.5L402.99 146.65L403.04 145.78L403.08 144.91L403.12 144.02L403.15 143.13L403.19 142.23L403.22 141.32L403.26 140.41L403.29 139.48L403.32 138.55L403.35 137.62L403.38 136.68L403.41 135.73L403.44 134.79L403.47 133.83L403.51 132.88L403.54 131.92L403.57 130.96L403.6 130L403.63 129.15L403.66 128.31L403.68 127.46L403.71 126.62L403.73 125.77L403.76 124.92L403.78 124.07L403.8 123.22L403.83 122.37L403.85 121.51L403.87 120.65L403.89 119.78L403.91 118.91L403.94 118.03L403.96 117.15L403.98 116.26L404 115.36L404.03 114.45L404.05 113.53L404.07 112.61L404.1 111.67L404.13 110.73L404.15 109.77L404.18 108.8L404.21 107.82L404.24 106.83L404.27 105.82L404.3 104.8L404.33 104.01L404.35 103.2L404.38 102.37L404.41 101.54L404.43 100.68L404.46 99.81L404.49 98.93L404.52 98.04L404.55 97.14L404.58 96.22L404.61 95.3L404.64 94.36L404.68 93.42L404.71 92.47L404.74 91.52L404.77 90.55L404.81 89.58L404.84 88.61L404.87 87.63L404.91 86.65L404.94 85.67L404.98 84.68L405.01 83.7L405.05 82.71L405.08 81.72L405.12 80.73L405.15 79.75L405.19 78.77L405.22 77.79L405.26 76.81L405.29 75.84L405.33 74.88L405.37 73.92L405.4 72.97L405.44 72.02L405.47 71.09L405.51 70.16L405.54 69.24L405.57 68.34L405.61 67.44L405.64 66.56L405.68 65.68L405.71 64.83L405.74 63.98L405.77 63.15L405.81 62.34L405.84 61.54L405.87 60.76L405.9 60L405.94 58.93L405.99 57.88L406.03 56.84L406.08 55.82L406.12 54.82L406.16 53.83L406.21 52.85L406.25 51.89L406.29 50.94L406.34 50.01L406.38 49.08L406.42 48.17L406.46 47.27L406.51 46.38L406.55 45.51L406.59 44.64L406.63 43.78L406.67 42.93L406.71 42.09L406.75 41.26L406.79 40.43L406.83 39.62L406.86 38.8L406.9 38L406.95 36.88L406.99 35.69L407.03 34.45L407.06 33.18L407.1 31.92L407.14 30.67L407.17 29.48L407.21 28.37L407.25 27.35L407.29 26.47L407.33 25.73L407.38 25.18L407.44 24.82L407.5 24.75L407.57 24.84L407.65 25.22L407.74 25.83L407.83 26.63L407.93 27.59L408.02 28.67L408.12 29.85L408.22 31.08L408.32 32.35L408.42 33.61L408.51 34.84L408.6 36L408.66 36.76L408.71 37.53L408.77 38.32L408.82 39.12L408.88 39.94L408.93 40.77L408.98 41.62L409.03 42.48L409.08 43.35L409.13 44.24L409.18 45.14L409.23 46.05L409.28 46.98L409.33 47.91L409.39 48.86L409.44 49.82L409.49 50.79L409.54 51.77L409.59 52.77L409.65 53.77L409.7 54.78L409.76 55.81L409.82 56.84L409.88 57.89L409.94 58.94L410 60L410.05 60.78L410.09 61.58L410.14 62.39L410.19 63.22L410.24 64.06L410.29 64.92L410.34 65.78L410.39 66.66L410.44 67.56L410.49 68.46L410.54 69.37L410.59 70.29L410.64 71.22L410.7 72.16L410.75 73.11L410.8 74.06L410.86 75.02L410.91 75.99L410.97 76.95L411.02 77.93L411.08 78.9L411.14 79.88L411.19 80.86L411.25 81.84L411.31 82.83L411.36 83.81L411.42 84.79L411.48 85.77L411.53 86.75L411.59 87.72L411.65 88.69L411.71 89.66L411.77 90.62L411.82 91.58L411.88 92.53L411.94 93.47L412 94.41L412.06 95.34L412.12 96.26L412.18 97.17L412.23 98.06L412.29 98.95L412.35 99.83L412.41 100.69L412.47 101.54L412.53 102.38L412.58 103.2L412.64 104.01L412.7 104.8L412.78 105.82L412.85 106.84L412.93 107.84L413 108.83L413.07 109.81L413.15 110.77L413.22 111.73L413.29 112.68L413.37 113.62L413.44 114.55L413.51 115.47L413.59 116.38L413.66 117.29L413.74 118.18L413.82 119.07L413.89 119.95L413.97 120.82L414.05 121.69L414.13 122.55L414.21 123.4L414.29 124.24L414.37 125.08L414.46 125.91L414.54 126.74L414.63 127.56L414.72 128.38L414.81 129.19L414.9 130L415.02 131.01L415.14 132L415.27 132.97L415.39 133.93L415.52 134.87L415.66 135.79L415.79 136.71L415.92 137.62L416.06 138.52L416.2 139.42L416.33 140.31L416.47 141.2L416.61 142.09L416.75 142.98L416.89 143.87L417.03 144.78L417.16 145.68L417.3 146.6L417.43 147.52L417.56 148.45L417.69 149.37L417.82 150.29L417.94 151.22L418.06 152.14L418.19 153.06L418.31 153.99L418.44 154.91L418.57 155.83L418.7 156.76L418.84 157.68L418.98 158.6L419.13 159.52L419.29 160.44L419.45 161.36L419.62 162.28L419.8 163.2L419.98 164.08L420.16 164.98L420.35 165.88L420.55 166.79L420.75 167.7L420.95 168.61L421.16 169.53L421.37 170.44L421.59 171.35L421.81 172.25L422.04 173.15L422.27 174.03L422.51 174.91L422.75 175.77L422.99 176.61L423.24 177.44L423.49 178.25L423.74 179.04L424 179.8L424.33 180.73L424.65 181.64L424.98 182.52L425.32 183.37L425.66 183.67L426.01 185.03L426.37 185.73L426.74 186.71L427.13 186.87L427.53 188.3L427.96 189.08L428.4 189.22L428.9 190.67L429.42 191.32L429.95 192.39L430.51 192.86L431.08 194.06L431.67 194.89L432.27 194.87L432.88 195.63L433.51 196.99L434.15 197.94L434.8 197.73L435.57 198.53L436.37 199.19L437.19 199.34L438.03 199.79L438.88 200.1L439.73 200.5L440.57 201.08L441.4 201.08L442.27 201.51L443.12 202.26L443.98 201.73L444.83 202.6L445.7 203.03L446.59 202.79L447.5 202.89L448.39 203.7L449.31 203.21L450.24 203.27L451.19 203.63L452.14 204L453.1 203.41L454.05 203.73L455 203.82L455.95 204.45L456.9 204.1L457.85 204.65L458.8 203.97L459.75 204.23L460.72 204.62L461.7 204.91L462.7 204.45L463.6 204.18L464.51 204.03L465.45 204.43L466.39 204L467.33 204.6L468.28 204.55L469.23 203.74L470.17 203.75L471.09 204.23L472 203.96L472.94 204.02L473.86 203.38L474.78 202.99L475.69 203.02L476.6 203.42L477.5 202.7L478.4 202.67L479.3 202.66L480.2 202.61L481.18 202.6L482.17 203.2L483.14 202.43L484.12 202.36L485.09 203.5L486.06 203.54L487.03 203.75L488 203.23L488.94 203.86L489.86 203.9L490.78 203.18L491.7 203.82L492.63 203.98L493.57 203.85L494.52 203.75L495.5 203.57L496.4 203.69L497.31 203.64L498.23 203.53L499.16 204.18L500.1 203.93L501.06 204.58L502.02 203.81L503 204.82L503.99 204.66L505 204.97L505.89 204.98L506.8 205.03L507.73 204.71L508.66 204.13L509.61 204.97L510.56 204.37L511.52 204.54L512.48 204.97L513.45 204.84L514.42 204.74L515.38 205.34L516.34 205L517.3 204.73L518.2 204.64L519.11 205.33L520.02 204.91L520.94 205.25L521.86 204.79L522.78 204.62L523.69 204.99L524.61 205.31L525.52 204.6L526.43 205.28L527.34 205.43L528.23 205.31L529.12 205.34L530 204.46L530.94 205.16L531.88 205.44L532.81 204.57L533.73 204.83L534.64 204.86L535.55 205.17L536.46 205.08L537.36 205.16L538.27 205.52L539.18 204.7L540.09 204.78L541 205.3" fill="none" stroke="#2a2a2a" stroke-width="1.3" stroke-linejoin="round"/>
<rect x="292.4" y="6.6" width="248.80000000000007" height="202.1" fill="none" stroke="#3d3d3d" stroke-width="1.3"/>
<line x1="518.9" y1="208.7" x2="518.9" y2="213" stroke="#3d3d3d" stroke-width="1.2"/>
<text x="518.9" y="224.6" class="t" text-anchor="middle">-100</text>
<line x1="495.45" y1="208.7" x2="495.45" y2="210.5" stroke="#3d3d3d" stroke-width="1.2"/>
<line x1="472" y1="208.7" x2="472" y2="213" stroke="#3d3d3d" stroke-width="1.2"/>
<text x="472" y="224.6" class="t" text-anchor="middle">-50</text>
<line x1="448.55" y1="208.7" x2="448.55" y2="210.5" stroke="#3d3d3d" stroke-width="1.2"/>
<line x1="425.1" y1="208.7" x2="425.1" y2="213" stroke="#3d3d3d" stroke-width="1.2"/>
<text x="425.1" y="224.6" class="t" text-anchor="middle">0</text>
<line x1="401.65" y1="208.7" x2="401.65" y2="210.5" stroke="#3d3d3d" stroke-width="1.2"/>
<line x1="378.2" y1="208.7" x2="378.2" y2="213" stroke="#3d3d3d" stroke-width="1.2"/>
<text x="378.2" y="224.6" class="t" text-anchor="middle">50</text>
<line x1="354.75" y1="208.7" x2="354.75" y2="210.5" stroke="#3d3d3d" stroke-width="1.2"/>
<line x1="331.3" y1="208.7" x2="331.3" y2="213" stroke="#3d3d3d" stroke-width="1.2"/>
<text x="331.3" y="224.6" class="t" text-anchor="middle">100</text>
<line x1="307.85" y1="208.7" x2="307.85" y2="210.5" stroke="#3d3d3d" stroke-width="1.2"/>
<text transform="translate(358.9 234.8) scale(0.945 1)" class="tb">Chemical Shift (ppm)</text>
<text transform="translate(284.6 107.1) rotate(-90)" class="tb" style="font-size:11.25px" text-anchor="middle">Intensity (A.U.)</text>
<text x="359.6" y="22.4" class="t" style="font-size:11px">18.56065</text>
<text transform="translate(510.9 17.3) scale(1 0.82)" class="tb">(c)</text>
<g fill="none" stroke-linejoin="round">
<path d="M292.7 366.9L293.61 366.71L294.52 366.62L295.43 366.87L296.34 366.69L297.26 366.64L298.17 366.93L299.08 367.36L299.99 367.28L300.9 367.27L301.82 366.86L302.73 367.12L303.64 366.93L304.55 366.87L305.46 366.83L306.37 366.93L307.28 367.51L308.19 367.44L309.09 367.44L310 367.44L310.97 366.98L311.98 367.11L313.03 367.43L314.1 367.59L315.18 367.77L316.27 367.88L317.36 367.33L318.45 367.83L319.51 367.95L320.55 367.88L321.56 367.65L322.53 367.9L323.44 367.57L324.3 368.19L325.1 368.05L325.82 367.66L326.45 367.28L327 367.53L327.95 366.54L328.58 365.9L329.05 364.58L329.5 363.5L329.81 362.67L330.06 361.73L330.29 360.74L330.48 359.74L330.66 358.78L330.83 357.92L331 357.2L331.3 356.01L331.6 355.68L332.03 356.24L332.5 357.8L332.73 358.63L332.94 359.61L333.16 360.65L333.4 361.69L333.67 362.66L334 363.43L334.58 364.65L335.24 365.43L336 365.93L337.08 366.62L338.5 367.35L339.16 366.83L339.93 366.9L340.8 367.4L341.73 367.15L342.73 367.36L343.77 367.3L344.83 367.18L345.91 367.68L346.98 367.01L348.03 367.16L349.04 366.97L350 367.31L350.94 367.02L351.89 367.08L352.83 367.39L353.76 367.04L354.69 367.22L355.62 367.49L356.53 366.83L357.42 366.77L358.3 366.87L359.16 367.26L360 367.09L361.08 366.69L362.13 366.62L363.15 366.33L364.15 366.39L365.13 365.92L366.07 366.37L367 366.52L368.04 366.68L369 366.72L369.95 367.15L370.94 366.64L372 367.03L372.88 367.65L373.78 367.54L374.7 367.26L375.65 367.69L376.65 367.42L377.7 367.56L378.81 367.13L380 367.05L380.72 367.26L381.48 367.02L382.28 367.22L383.11 367.68L383.96 367.18L384.84 366.92L385.74 366.95L386.66 367.05L387.6 367.55L388.55 367.21L389.52 367.15L390.49 367L391.46 367.7L392.44 367.26L393.42 367.08L394.39 366.96L395.36 366.96L396.32 367.04L397.27 367.45L398.2 367.02L399.11 366.94L400 367.29L400.95 367.1L401.9 367.69L402.84 366.99L403.78 367.32L404.71 367.51L405.64 367.22L406.56 367.68L407.49 367.27L408.41 367.08L409.33 367.21L410.24 366.9L411.16 367.21L412.08 367.06L412.99 367.57L413.91 367.51L414.83 367.24L415.75 366.85L416.67 367.02L417.6 366.99L418.55 366.97L419.55 367.02L420.58 367.58L421.64 367.07L422.72 367.08L423.8 367.87L424.89 367.67L425.98 368.1L427.05 367.7L428.1 368.16L429.12 368L430.11 368.12L431.05 368.06L431.94 367.79L432.76 367.36L433.52 367.3L434.2 367.62L434.8 367.36L435.3 367.04L435.91 365.9L436.32 365.39L436.57 364.38L436.71 363.41L436.77 362.36L436.81 361.24L436.88 360.05L437 358.8L437.09 358.12L437.17 357.41L437.24 356.66L437.32 355.88L437.38 355.06L437.45 354.22L437.51 353.36L437.56 352.47L437.62 351.56L437.67 350.63L437.72 349.68L437.76 348.72L437.81 347.75L437.85 346.76L437.89 345.77L437.93 344.78L437.97 343.78L438.01 342.78L438.05 341.78L438.09 340.78L438.13 339.79L438.17 338.81L438.21 337.84L438.26 336.88L438.3 335.94L438.35 335.01L438.4 334.1L438.45 333.15L438.5 332.19L438.55 331.2L438.59 330.19L438.63 329.18L438.67 328.15L438.71 327.12L438.75 326.08L438.79 325.04L438.83 324.01L438.87 322.99L438.91 321.97L438.95 320.97L439 319.99L439.04 319.02L439.09 318.08L439.14 317.16L439.2 316.28L439.26 315.43L439.32 314.61L439.38 313.84L439.45 313.1L439.53 312.42L439.61 311.78L439.7 311.2L439.92 309.95L440.15 308.76L440.4 307.75L440.65 307.3L440.9 306.91L441.14 307.31L441.38 307.77L441.63 308.81L441.87 310.09L442.09 311.49L442.3 312.9L442.38 313.51L442.45 314.17L442.52 314.88L442.59 315.62L442.65 316.4L442.71 317.21L442.76 318.06L442.81 318.94L442.86 319.84L442.91 320.77L442.95 321.72L442.99 322.68L443.03 323.67L443.07 324.66L443.1 325.67L443.14 326.69L443.17 327.71L443.21 328.73L443.25 329.76L443.28 330.78L443.32 331.79L443.36 332.8L443.4 333.8L443.44 334.78L443.49 335.75L443.54 336.7L443.59 337.62L443.64 338.52L443.7 339.4L443.76 340.38L443.82 341.37L443.87 342.38L443.92 343.4L443.97 344.42L444.01 345.44L444.05 346.47L444.09 347.49L444.14 348.51L444.18 349.52L444.23 350.52L444.29 351.5L444.35 352.47L444.41 353.42L444.49 354.34L444.57 355.23L444.67 356.1L444.77 356.93L444.89 357.73L445.02 358.49L445.16 359.2L445.32 359.88L445.5 360.5L445.88 361.69L446.26 362.77L446.68 363.76L447.17 364.7L447.77 365.42L448.5 365.61L449.29 366.45L450.25 366.65L451.32 366.01L452.44 366.68L453.57 366.55L454.64 366.13L455.6 365.4L456.4 365.82L457.46 364.39L458.29 364.06L459.1 363.33L459.98 363.48L460.85 364.67L461.6 365.51L461.85 365.25L462.07 364.79L462.25 364.22L462.41 363.49L462.55 362.64L462.66 361.67L462.76 360.61L462.84 359.48L462.92 358.3L462.99 357.1L463.06 355.89L463.13 354.69L463.21 353.53L463.3 352.43L463.4 351.4L463.49 350.52L463.58 349.6L463.67 348.65L463.76 347.68L463.84 346.68L463.92 345.68L464 344.66L464.08 343.64L464.16 342.63L464.24 341.63L464.32 340.65L464.4 339.7L464.48 338.77L464.56 337.88L464.64 337.03L464.73 336.24L464.82 335.49L464.91 334.81L465 334.2L465.22 332.87L465.44 331.64L465.67 330.74L465.9 330.6L466.04 330.89L466.18 330.97L466.32 331.62L466.47 332.46L466.62 333.46L466.77 334.57L466.91 335.75L467.06 336.98L467.21 338.2L467.36 339.39L467.5 340.5L467.61 341.35L467.71 342.3L467.81 343.34L467.91 344.45L468.01 345.62L468.11 346.83L468.21 348.06L468.31 349.31L468.41 350.54L468.51 351.76L468.61 352.93L468.71 354.05L468.82 355.1L468.92 356.06L469.03 356.92L469.14 357.66L469.25 358.26L469.36 358.71L469.48 358.77L469.6 358.7L469.76 359.29L469.93 358.53L470.1 357.86L470.28 357L470.46 355.99L470.64 354.87L470.82 353.68L471 352.47L471.18 351.27L471.36 350.13L471.53 349.09L471.7 348.2L471.92 347L472.13 345.68L472.34 344.36L472.55 343.14L472.76 342.13L472.98 341.06L473.2 341.5L473.38 341.06L473.57 341.82L473.76 342.52L473.95 343.43L474.15 344.48L474.34 345.65L474.54 346.87L474.73 348.1L474.93 349.3L475.12 350.41L475.3 351.4L475.47 352.37L475.62 353.38L475.75 354.4L475.88 355.42L476.01 356.43L476.15 357.41L476.33 358.34L476.53 359.21L476.79 360L477.1 360.95L477.78 362.04L478.58 363.14L479.41 363.6L480.2 364.1L480.76 363.32L481.33 363.12L481.88 362.04L482.4 361.52L482.88 360.15L483.3 359.1L483.54 358.37L483.75 357.59L483.93 356.76L484.08 355.89L484.21 354.98L484.32 354.04L484.41 353.06L484.49 352.05L484.57 351.02L484.65 349.96L484.72 348.89L484.81 347.8L484.9 346.7L484.97 345.93L485.03 345.14L485.09 344.34L485.15 343.51L485.21 342.67L485.27 341.81L485.32 340.93L485.38 340.05L485.43 339.15L485.48 338.24L485.52 337.32L485.57 336.39L485.62 335.46L485.66 334.52L485.7 333.58L485.74 332.64L485.78 331.69L485.82 330.74L485.86 329.79L485.89 328.85L485.93 327.91L485.97 326.97L486 326.04L486.03 325.12L486.07 324.2L486.1 323.3L486.13 322.37L486.16 321.44L486.19 320.51L486.22 319.59L486.24 318.66L486.27 317.74L486.29 316.82L486.31 315.9L486.33 314.98L486.34 314.06L486.36 313.13L486.38 312.21L486.39 311.29L486.41 310.36L486.42 309.44L486.44 308.51L486.45 307.58L486.47 306.64L486.49 305.7L486.5 304.76L486.52 303.82L486.54 302.87L486.56 301.92L486.58 300.96L486.6 300L486.62 299.08L486.64 298.09L486.66 297.05L486.68 295.96L486.7 294.83L486.72 293.67L486.74 292.48L486.75 291.27L486.77 290.04L486.79 288.81L486.81 287.58L486.83 286.36L486.85 285.15L486.87 283.96L486.89 282.79L486.91 281.67L486.93 280.58L486.96 279.54L486.98 278.55L487.01 277.63L487.03 276.77L487.06 275.99L487.09 275.29L487.12 274.68L487.15 274.17L487.19 273.76L487.22 273.45L487.26 273.26L487.3 273.42L487.36 273.3L487.43 273.69L487.5 274.26L487.58 275.01L487.65 275.91L487.73 276.93L487.81 278.04L487.9 279.22L487.98 280.43L488.06 281.64L488.14 282.82L488.22 283.95L488.3 285L488.36 285.88L488.43 286.86L488.49 287.92L488.56 289.05L488.62 290.23L488.69 291.43L488.76 292.66L488.82 293.88L488.89 295.08L488.95 296.24L489.02 297.36L489.08 298.4L489.14 299.36L489.21 300.22L489.27 300.96L489.33 301.57L489.39 302.02L489.44 302.3L489.5 302.42L489.55 302.32L489.6 302.1L489.64 301.74L489.69 301.26L489.74 300.65L489.78 299.94L489.83 299.14L489.87 298.24L489.91 297.27L489.95 296.23L490 295.13L490.04 293.99L490.08 292.8L490.12 291.59L490.16 290.35L490.2 289.11L490.23 287.87L490.27 286.64L490.31 285.42L490.35 284.24L490.39 283.1L490.42 282L490.46 280.97L490.5 280L490.54 279.07L490.57 278.13L490.61 277.18L490.64 276.22L490.67 275.26L490.71 274.29L490.74 273.31L490.77 272.33L490.8 271.36L490.83 270.39L490.86 269.42L490.89 268.45L490.93 267.5L490.96 266.55L490.99 265.61L491.02 264.69L491.05 263.78L491.08 262.89L491.12 262.02L491.15 261.17L491.19 260.34L491.22 259.53L491.26 258.75L491.3 258L491.36 256.87L491.42 255.67L491.48 254.45L491.55 253.23L491.61 252.06L491.68 250.97L491.74 250L491.81 249.18L491.87 248.55L491.94 248.14L492 247.62L492.05 248.11L492.11 248.43L492.17 248.93L492.22 249.6L492.28 250.41L492.33 251.35L492.39 252.4L492.45 253.52L492.5 254.71L492.55 255.94L492.61 257.19L492.66 258.44L492.71 259.68L492.75 260.87L492.8 262L492.83 262.76L492.86 263.54L492.89 264.34L492.92 265.15L492.94 265.99L492.97 266.84L493 267.7L493.02 268.58L493.05 269.47L493.07 270.38L493.09 271.29L493.12 272.21L493.14 273.14L493.16 274.08L493.18 275.02L493.2 275.97L493.22 276.92L493.24 277.88L493.26 278.83L493.29 279.79L493.3 280.75L493.32 281.7L493.34 282.65L493.36 283.59L493.38 284.54L493.4 285.47L493.42 286.39L493.44 287.31L493.46 288.22L493.48 289.12L493.5 290L493.52 290.95L493.54 291.9L493.56 292.84L493.58 293.78L493.6 294.71L493.62 295.65L493.64 296.58L493.66 297.5L493.67 298.43L493.69 299.35L493.71 300.27L493.73 301.19L493.75 302.11L493.76 303.03L493.78 303.95L493.8 304.87L493.81 305.78L493.83 306.7L493.85 307.62L493.87 308.54L493.89 309.46L493.9 310.37L493.92 311.3L493.94 312.22L493.96 313.14L493.98 314.07L494 315L494.02 315.91L494.04 316.82L494.06 317.74L494.08 318.65L494.1 319.57L494.11 320.5L494.13 321.42L494.15 322.35L494.17 323.27L494.19 324.2L494.21 325.13L494.23 326.05L494.25 326.98L494.27 327.9L494.29 328.83L494.31 329.75L494.33 330.67L494.35 331.58L494.37 332.5L494.4 333.41L494.42 334.31L494.44 335.21L494.47 336.11L494.49 337L494.52 337.88L494.54 338.76L494.57 339.63L494.6 340.5L494.63 341.5L494.64 342.52L494.65 343.56L494.65 344.61L494.64 345.67L494.63 346.73L494.61 347.8L494.6 348.86L494.59 349.91L494.58 350.96L494.58 351.98L494.59 352.99L494.6 353.98L494.63 354.94L494.67 355.86L494.73 356.75L494.8 357.6L494.9 358.4L495.01 359.16L495.15 359.86L495.31 360.51L495.5 361.1L496.03 361.94L496.68 363.51L497.37 364.35L498.04 365.24L498.6 365.19L498.89 364.61L499.15 364.37L499.38 363.85L499.6 363.05L499.79 362.11L499.97 361.07L500.13 359.94L500.28 358.77L500.41 357.58L500.55 356.4L500.67 355.26L500.8 354.2L500.89 353.39L500.97 352.56L501.04 351.72L501.1 350.85L501.16 349.97L501.2 349.08L501.24 348.17L501.28 347.26L501.31 346.34L501.33 345.41L501.36 344.47L501.38 343.54L501.4 342.6L501.43 341.67L501.45 340.74L501.48 339.82L501.52 338.9L501.56 338L501.6 337.1L501.65 336.14L501.7 335.09L501.75 333.98L501.8 332.83L501.85 331.64L501.91 330.43L501.96 329.23L502.01 328.04L502.07 326.89L502.12 325.79L502.18 324.75L502.24 323.81L502.29 322.96L502.35 322.22L502.41 321.63L502.47 321.18L502.54 320.9L502.6 321.01L502.67 320.92L502.73 321.18L502.8 321.63L502.88 322.23L502.95 322.97L503.03 323.82L503.1 324.78L503.18 325.81L503.26 326.92L503.33 328.08L503.41 329.26L503.48 330.47L503.56 331.67L503.63 332.86L503.7 334.01L503.77 335.12L503.84 336.15L503.9 337.1L503.95 338.09L503.98 339.15L504 340.27L504 341.43L504 342.62L503.99 343.82L503.98 345.01L503.97 346.19L503.97 347.32L503.99 348.4L504.02 349.41L504.07 350.33L504.15 351.15L504.26 351.86L504.4 352.43L504.58 352.46L504.8 353.37L505.68 353.09L506.6 352.17L506.99 352.93L507.32 353.6L507.62 354.53L507.89 355.6L508.17 356.73L508.47 357.82L508.8 358.8L509.15 359.74L509.47 360.73L509.8 361.72L510.16 362.59L510.58 363.83L511.08 364.26L511.7 364.89L512.43 365.65L513.23 366.49L514.11 366.15L515.07 366.46L516.12 367.1L517.26 367.52L518.5 367.41L519.15 367.43L519.83 367.83L520.55 367.82L521.31 367.28L522.1 367.95L522.92 367.41L523.77 367.48L524.64 367.89L525.54 367.53L526.46 367.8L527.39 367.24L528.34 367.76L529.31 367.14L530.28 367.05L531.26 367.26L532.25 367.07L533.24 367.16L534.23 367.38L535.22 367.15L536.21 366.52L537.19 366.7L538.16 366.82L539.12 366.72L540.06 366.85L540.99 366.62L541.9 366.6" stroke="#1e1e1e" stroke-width="1.3"/>
<path d="M292.7 441.2L293.62 441.3L294.54 441.4L295.48 441.46L296.42 441.59L297.37 441.44L298.32 441.6L299.27 440.91L300.23 441.28L301.18 441.68L302.13 441.46L303.08 441.68L304.02 441.06L304.95 441.35L305.88 441.18L306.79 441.42L307.69 441.44L308.57 440.98L309.43 441.12L310.28 441.15L311.11 441.63L311.92 441.46L312.7 440.93L313.74 441.36L314.77 440.75L315.79 441.05L316.78 440.57L317.75 440.36L318.69 440.95L319.6 440.29L320.48 440.15L321.33 440.6L322.13 440.33L322.89 439.66L323.6 439.97L324.64 439.19L325.56 438.79L326.39 437.86L327.19 437.89L328 437.15L328.95 436.66L329.88 435.83L330.79 434.71L331.7 434.49L332.53 434.53L333.34 435.02L334.16 435.59L335 436.34L335.92 437.08L336.86 437.1L337.84 438.14L338.9 438.37L339.71 438.75L340.53 439.59L341.38 439.77L342.28 440.07L343.25 440.6L344.32 441.11L345.5 440.85L346.16 441.66L346.88 440.96L347.64 441.56L348.45 441.63L349.29 440.95L350.17 441.51L351.08 441.11L352.02 441.19L352.98 440.64L353.96 440.56L354.95 440.55L355.95 441.04L356.96 440.31L357.97 440.62L358.98 440.63L359.99 440.52L360.98 439.92L361.96 439.82L362.92 439.86L363.86 439.97L364.77 439.37L365.65 439.83L366.49 439.84L367.3 439.89L368.31 439.25L369.27 440.03L370.2 439.41L371.09 439.7L371.97 440.01L372.83 440.37L373.68 440.02L374.53 440.6L375.39 440.42L376.26 440.34L377.15 440.44L378.06 440.42L379.01 440.41L380 440.52L380.81 440.98L381.65 441.24L382.5 440.58L383.36 440.49L384.24 441.24L385.13 440.86L386.03 440.74L386.94 440.59L387.86 440.85L388.78 441L389.72 440.68L390.65 440.62L391.59 440.3L392.54 440.95L393.48 440.22L394.42 440.56L395.36 440.81L396.3 440.23L397.24 440.69L398.16 440.86L399.09 440.6L400 440.73L400.91 440.2L401.84 440.48L402.77 440.27L403.7 440.86L404.64 440.45L405.58 440.62L406.53 441.09L407.47 441.02L408.41 441.16L409.35 440.79L410.29 440.86L411.23 441.1L412.15 440.94L413.07 440.84L413.98 440.97L414.88 440.8L415.77 441.01L416.65 441.53L417.51 441.53L418.36 441.28L419.19 441.19L420 441.07L421.09 440.88L422.2 441.05L423.31 441.48L424.43 441.58L425.53 441.2L426.6 441.56L427.64 441.56L428.64 441.48L429.57 441.42L430.44 441.43L431.22 441.01L431.91 441.15L432.5 440.62L433.7 440.03L434.5 439.32L435.12 438.34L435.6 436.9L435.72 436.41L435.84 435.84L435.95 435.2L436.06 434.5L436.16 433.74L436.25 432.92L436.34 432.05L436.43 431.13L436.51 430.18L436.59 429.2L436.66 428.18L436.73 427.14L436.8 426.09L436.87 425.02L436.94 423.95L437 422.88L437.07 421.8L437.13 420.74L437.2 419.7L437.27 418.67L437.33 417.67L437.4 416.7L437.46 415.82L437.52 414.93L437.57 414.02L437.62 413.1L437.67 412.16L437.72 411.22L437.77 410.27L437.81 409.31L437.85 408.35L437.89 407.38L437.94 406.42L437.98 405.46L438.02 404.5L438.06 403.55L438.1 402.6L438.14 401.67L438.19 400.75L438.24 399.84L438.28 398.94L438.33 398.07L438.39 397.21L438.44 396.38L438.5 395.57L438.56 394.79L438.63 394.03L438.7 393.3L438.81 392.15L438.91 390.95L439.02 389.72L439.12 388.51L439.24 387.35L439.36 386.26L439.49 385.29L439.63 384.46L439.8 383.82L439.99 383.22L440.2 383.56L440.71 383.61L441.29 384.44L441.8 385.6L441.94 386.09L442.06 386.65L442.17 387.29L442.26 387.99L442.34 388.76L442.41 389.58L442.47 390.46L442.51 391.38L442.55 392.34L442.58 393.34L442.61 394.37L442.63 395.42L442.65 396.49L442.67 397.58L442.68 398.67L442.69 399.77L442.71 400.86L442.72 401.95L442.75 403.03L442.77 404.08L442.8 405.12L442.84 406.12L442.88 407.09L442.94 408.02L443 408.9L443.08 409.87L443.15 410.85L443.22 411.82L443.29 412.8L443.37 413.77L443.44 414.74L443.51 415.7L443.59 416.65L443.67 417.59L443.76 418.52L443.85 419.43L443.95 420.33L444.05 421.21L444.17 422.07L444.29 422.91L444.42 423.72L444.57 424.51L444.73 425.27L444.9 426L445.17 427.04L445.44 428.03L445.73 428.98L446.04 429.89L446.36 430.37L446.72 431.58L447.11 432.4L447.53 432.91L448 433.94L448.67 434.62L449.4 435.72L450.19 436.32L451.01 437.08L451.86 437.23L452.7 437.82L453.64 438.06L454.64 438.12L455.64 437.6L456.58 437.76L457.4 437.5L458.25 436.72L458.97 436.18L459.7 435.77L460.49 435.85L461.29 436.66L462 436.63L462.24 436.97L462.46 436.35L462.66 435.85L462.83 435.22L463 434.48L463.14 433.64L463.27 432.71L463.39 431.71L463.5 430.65L463.6 429.54L463.69 428.4L463.78 427.24L463.86 426.08L463.95 424.93L464.03 423.8L464.11 422.71L464.2 421.67L464.3 420.7L464.4 419.8L464.52 418.79L464.63 417.69L464.74 416.53L464.84 415.33L464.94 414.11L465.04 412.9L465.14 411.72L465.23 410.59L465.33 409.54L465.42 408.58L465.51 407.75L465.61 407.06L465.7 406.54L465.8 406.56L465.9 406.08L465.99 406.21L466.08 406.54L466.16 407.05L466.24 407.72L466.32 408.54L466.4 409.48L466.48 410.52L466.56 411.64L466.64 412.81L466.73 414.01L466.82 415.22L466.92 416.41L467.02 417.57L467.12 418.67L467.24 419.69L467.37 420.61L467.5 421.4L467.71 422.51L467.92 423.67L468.15 424.84L468.38 425.94L468.63 426.91L468.9 427.84L469.19 428.38L469.5 428.58L469.79 427.93L470.1 427.83L470.44 426.72L470.79 425.59L471.15 424.32L471.53 422.96L471.91 421.61L472.28 420.33L472.66 419.21L473.02 418.37L473.37 417.85L473.7 417.44L474.03 417.78L474.34 418.38L474.65 419L474.95 419.81L475.24 420.87L475.54 421.99L475.84 423.12L476.14 424.21L476.46 425.19L476.8 426.18L477.27 426.62L477.77 427.8L478.29 429.04L478.79 430.07L479.27 430.3L479.7 430.85L480.01 430.6L480.29 429.65L480.55 429.28L480.79 428.4L481.02 427.35L481.23 426.18L481.44 424.95L481.63 423.7L481.82 422.47L482 421.3L482.12 420.54L482.22 419.76L482.32 418.95L482.42 418.11L482.51 417.25L482.59 416.37L482.67 415.48L482.74 414.56L482.81 413.63L482.87 412.69L482.94 411.74L483 410.77L483.06 409.81L483.12 408.83L483.17 407.85L483.23 406.88L483.29 405.9L483.35 404.93L483.41 403.96L483.47 402.99L483.53 402.04L483.6 401.1L483.67 400.21L483.73 399.34L483.8 398.47L483.86 397.61L483.93 396.76L484 395.91L484.06 395.06L484.13 394.21L484.19 393.36L484.26 392.51L484.32 391.65L484.39 390.79L484.45 389.92L484.52 389.03L484.58 388.14L484.64 387.23L484.7 386.31L484.76 385.37L484.82 384.42L484.88 383.44L484.94 382.44L484.99 381.42L485.05 380.37L485.1 379.3L485.14 378.56L485.17 377.79L485.2 377L485.24 376.18L485.27 375.35L485.3 374.49L485.33 373.61L485.36 372.72L485.39 371.81L485.42 370.88L485.45 369.94L485.48 368.99L485.51 368.02L485.54 367.04L485.57 366.05L485.59 365.05L485.62 364.04L485.65 363.02L485.67 362L485.7 360.97L485.72 359.94L485.75 358.91L485.77 357.87L485.8 356.83L485.82 355.79L485.84 354.76L485.87 353.72L485.89 352.69L485.92 351.66L485.94 350.64L485.96 349.63L485.99 348.62L486.01 347.62L486.03 346.63L486.06 345.65L486.08 344.68L486.1 343.73L486.13 342.79L486.15 341.87L486.17 340.96L486.2 340.07L486.22 339.19L486.24 338.34L486.27 337.51L486.29 336.69L486.32 335.9L486.34 335.14L486.37 334.4L486.39 333.68L486.42 332.99L486.45 332.33L486.47 331.7L486.5 331.1L486.55 329.85L486.58 328.59L486.61 327.34L486.63 326.13L486.65 324.96L486.68 323.87L486.72 322.88L486.77 322.01L486.84 321.29L486.93 320.73L487.05 320.14L487.2 319.84L487.74 320.34L488.3 321.8L488.43 322.3L488.55 322.96L488.66 323.77L488.75 324.7L488.84 325.75L488.91 326.89L488.98 328.09L489.04 329.34L489.09 330.62L489.13 331.92L489.18 333.2L489.21 334.46L489.25 335.66L489.29 336.8L489.32 337.85L489.36 338.79L489.4 339.61L489.44 340.27L489.49 340.77L489.54 341.09L489.6 341.05L489.68 341.06L489.76 340.65L489.83 340.01L489.91 339.18L489.99 338.2L490.07 337.09L490.15 335.89L490.23 334.64L490.31 333.37L490.39 332.12L490.46 330.92L490.54 329.81L490.62 328.83L490.7 328L490.79 326.85L490.86 325.68L490.93 324.57L491.02 323.62L491.17 322.93L491.4 322.35L492.4 323.05L492.56 323.67L492.69 324.16L492.8 324.75L492.89 325.43L492.96 326.19L493.01 327.03L493.05 327.94L493.08 328.91L493.1 329.93L493.11 331L493.11 332.09L493.12 333.21L493.12 334.35L493.13 335.5L493.14 336.64L493.17 337.78L493.2 338.9L493.22 339.63L493.25 340.37L493.27 341.14L493.3 341.93L493.32 342.74L493.34 343.56L493.36 344.4L493.38 345.26L493.4 346.13L493.42 347.01L493.44 347.91L493.46 348.82L493.48 349.73L493.5 350.66L493.51 351.6L493.53 352.54L493.55 353.5L493.56 354.45L493.58 355.42L493.6 356.38L493.61 357.35L493.63 358.32L493.64 359.29L493.66 360.26L493.67 361.23L493.69 362.2L493.7 363.17L493.72 364.13L493.73 365.09L493.75 366.04L493.76 366.98L493.78 367.91L493.79 368.84L493.81 369.76L493.82 370.66L493.84 371.56L493.85 372.44L493.87 373.31L493.88 374.16L493.9 375L493.92 375.97L493.93 376.93L493.95 377.88L493.96 378.83L493.98 379.77L493.99 380.7L494 381.63L494.01 382.55L494.02 383.46L494.03 384.37L494.04 385.28L494.05 386.18L494.06 387.07L494.07 387.96L494.08 388.85L494.1 389.74L494.11 390.62L494.12 391.5L494.14 392.38L494.16 393.25L494.18 394.13L494.2 395L494.22 395.87L494.24 396.74L494.27 397.61L494.3 398.48L494.33 399.35L494.36 400.23L494.4 401.1L494.44 402.06L494.48 403.04L494.53 404.03L494.57 405.02L494.61 406.02L494.66 407.02L494.7 408.02L494.75 409.02L494.8 410.03L494.85 411.03L494.9 412.02L494.95 413.01L495.01 413.98L495.07 414.95L495.13 415.91L495.2 416.85L495.27 417.77L495.35 418.68L495.43 419.57L495.51 420.44L495.6 421.28L495.69 422.1L495.79 422.9L495.89 423.66L496 424.4L496.19 425.6L496.39 426.86L496.61 428.12L496.83 429.36L497.06 430.53L497.31 431.58L497.55 432.47L497.8 432.8L498.05 433.6L498.3 433.7L498.68 433.62L499.09 432.83L499.49 431.66L499.87 430.39L500.2 429.1L500.34 428.43L500.46 427.69L500.57 426.9L500.66 426.06L500.74 425.18L500.81 424.27L500.87 423.32L500.92 422.35L500.97 421.36L501.01 420.36L501.05 419.35L501.1 418.34L501.14 417.34L501.2 416.34L501.25 415.37L501.32 414.42L501.4 413.5L501.49 412.51L501.58 411.44L501.68 410.3L501.78 409.1L501.88 407.88L501.98 406.66L502.09 405.45L502.19 404.28L502.3 403.17L502.41 402.14L502.51 401.21L502.61 400.4L502.72 399.73L502.81 399.23L502.91 398.7L503 399.12L503.09 398.54L503.19 399.33L503.27 399.95L503.36 400.75L503.44 401.71L503.52 402.79L503.6 403.97L503.68 405.2L503.77 406.46L503.85 407.71L503.93 408.93L504.02 410.07L504.11 411.1L504.2 412L504.31 413.17L504.41 414.42L504.49 415.69L504.59 416.91L504.7 417.99L504.85 418.89L505.04 419.44L505.3 419.62L506.09 418.94L506.9 417.89L507.26 418.84L507.57 419.39L507.84 420.5L508.1 421.72L508.4 422.9L508.62 423.71L508.84 424.59L509.05 425.52L509.27 426.49L509.49 427.49L509.73 428.48L509.97 429.47L510.23 430.43L510.5 431.34L510.8 432.2L511.16 433.2L511.52 434.2L511.89 435.06L512.29 435.72L512.75 437.04L513.28 437.4L513.9 438.44L514.59 438.82L515.32 439.47L516.12 440.14L516.99 440.34L517.93 440.28L518.97 440.83L520.1 440.91L520.75 440.8L521.44 440.71L522.17 441.14L522.94 441.18L523.75 441.53L524.59 441.57L525.46 441.3L526.36 441.1L527.28 441.52L528.22 440.8L529.18 440.86L530.15 441.2L531.13 441.21L532.13 440.8L533.13 441.15L534.13 441.32L535.13 440.87L536.13 440.88L537.12 440.68L538.11 440.7L539.08 441.22L540.04 440.72L540.98 441.17L541.9 440.8" stroke="#ff1e1e" stroke-width="1.3"/>
</g>
<rect x="292.6" y="245.1" width="250.19999999999993" height="198.00000000000003" fill="none" stroke="#3d3d3d" stroke-width="1.3"/>
<line x1="527.11" y1="443.1" x2="527.11" y2="447" stroke="#3d3d3d" stroke-width="1.2"/>
<text x="527.11" y="458.6" class="t" text-anchor="middle">50</text>
<line x1="488.04" y1="443.1" x2="488.04" y2="445.1" stroke="#3d3d3d" stroke-width="1.2"/>
<line x1="448.97" y1="443.1" x2="448.97" y2="447" stroke="#3d3d3d" stroke-width="1.2"/>
<text x="448.97" y="458.6" class="t" text-anchor="middle">100</text>
<line x1="409.9" y1="443.1" x2="409.9" y2="445.1" stroke="#3d3d3d" stroke-width="1.2"/>
<line x1="370.83" y1="443.1" x2="370.83" y2="447" stroke="#3d3d3d" stroke-width="1.2"/>
<text x="370.83" y="458.6" class="t" text-anchor="middle">150</text>
<line x1="331.77" y1="443.1" x2="331.77" y2="445.1" stroke="#3d3d3d" stroke-width="1.2"/>
<line x1="292.7" y1="443.1" x2="292.7" y2="447" stroke="#3d3d3d" stroke-width="1.2"/>
<text x="292.7" y="458.6" class="t" text-anchor="middle">200</text>
<text transform="translate(364.4 468.6) scale(0.954 1)" class="tb">Chemical Shift (ppm)</text>
<text transform="translate(286.4 343.5) rotate(-90)" class="tb" style="font-size:11px" text-anchor="middle">Intensity (A.U.)</text>
<line x1="310.9" y1="265.3" x2="336.4" y2="265.3" stroke="#1e1e1e" stroke-width="1.5"/>
<line x1="310.9" y1="279.5" x2="336.4" y2="279.5" stroke="#ff1e1e" stroke-width="1.5"/>
<text x="346" y="266.6" class="t">NOCNF</text>
<text x="346" y="285.8" class="t">Al-CNF</text>
<text transform="translate(516.4 257.2) scale(1 0.81)" class="tb">(d)</text>
</svg>
</body></html>
